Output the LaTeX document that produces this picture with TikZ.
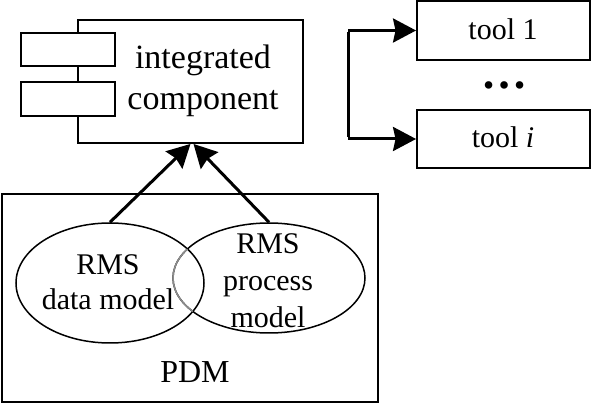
\documentclass[tikz,border=0pt]{standalone}
\usepackage{fontspec}
\setmainfont{Liberation Serif}
\usetikzlibrary{arrows.meta,shapes.geometric}
\begin{document}
\begin{tikzpicture}[x=1pt,y=-1pt,
  boxline/.style={draw=black,line width=1.9pt},
  conn/.style={line width=3pt,-{Stealth[length=23pt,width=24pt,inset=2.5pt]}},
  txt/.style={inner sep=0pt,anchor=base},
  ell/.style={ellipse,inner sep=0pt,line width=1.5pt}]
\useasboundingbox (0,0) rectangle (592,403);
\fill[white] (0,0) rectangle (592,403);
% integrated component
\node[boxline,rectangle,inner sep=0pt,minimum width=225pt,minimum height=123pt] (comp) at (190.5,81.5) {};
\node[boxline,fill=white,rectangle,inner sep=0pt,minimum width=94pt,minimum height=33pt] (r1) at (68,49.5) {};
\node[boxline,fill=white,rectangle,inner sep=0pt,minimum width=94pt,minimum height=34pt] (r2) at (68,99) {};
\node[txt,font=\fontsize{34}{41}\selectfont] (c1) at (203,69) {integrated};
\node[txt,font=\fontsize{34}{41}\selectfont] (c2) at (203,110) {component};
% tools
\node[boxline,rectangle,inner sep=0pt,minimum width=173pt,minimum height=59pt] (t1) at (503.5,30.5) {};
\node[boxline,rectangle,inner sep=0pt,minimum width=173pt,minimum height=58pt] (ti) at (503.5,139) {};
\node[txt,font=\fontsize{30}{36}\selectfont] (t1l) at (503,40) {tool 1};
\node[txt,font=\fontsize{30}{36}\selectfont] (til) at (503,148) {tool \textit{i}};
\node[txt,font=\fontsize{46}{50}\selectfont\bfseries] (dots) at (504,89) {…};
\coordinate (bend1) at (348,30.5);
\coordinate (bend2) at (348,139);
\draw[line width=3pt] ([yshift=-1.5pt]bend1) -- ([yshift=1.5pt]bend2);
\draw[conn] (bend1) -- (t1.west);
\draw[conn] (bend2) -- (ti.west);
% PDM
\node[draw,line width=1.6pt,rectangle,inner sep=0pt,minimum width=376pt,minimum height=208pt] (pdm) at (190,298) {};
\node[ell,draw,minimum width=188pt,minimum height=120pt] (e1) at (110,283) {};
\node[ell,minimum width=192pt,minimum height=110pt] (e2) at (269,278) {};
\begin{scope}
  \clip (110,283) ellipse [x radius=94pt,y radius=60pt] (0,0) rectangle (592,403);
  \draw[line width=1.5pt] (269,278) ellipse [x radius=96pt,y radius=55pt];
\end{scope}
\begin{scope}
  \clip (110,283) ellipse [x radius=94pt,y radius=60pt];
  \draw[line width=1.5pt,black!45] (269,278) ellipse [x radius=96pt,y radius=55pt];
\end{scope}
\node[txt,font=\fontsize{30}{36}\selectfont] (a1) at (108,275) {RMS};
\node[txt,font=\fontsize{30}{36}\selectfont] (a2) at (108,310) {data model};
\node[txt,font=\fontsize{30}{36}\selectfont] (b1) at (268,254) {RMS};
\node[txt,font=\fontsize{30}{36}\selectfont] (b2) at (268,291) {process};
\node[txt,font=\fontsize{30}{36}\selectfont] (b3) at (268,328) {model};
\node[txt,font=\fontsize{32}{38}\selectfont] (pl) at (195,383) {PDM};
% arrows to component
\draw[conn] (e1.north) -- ([xshift=0pt]comp.south);
\draw[conn] (e2.north) -- ([xshift=3pt]comp.south);
\end{tikzpicture}
\end{document}
